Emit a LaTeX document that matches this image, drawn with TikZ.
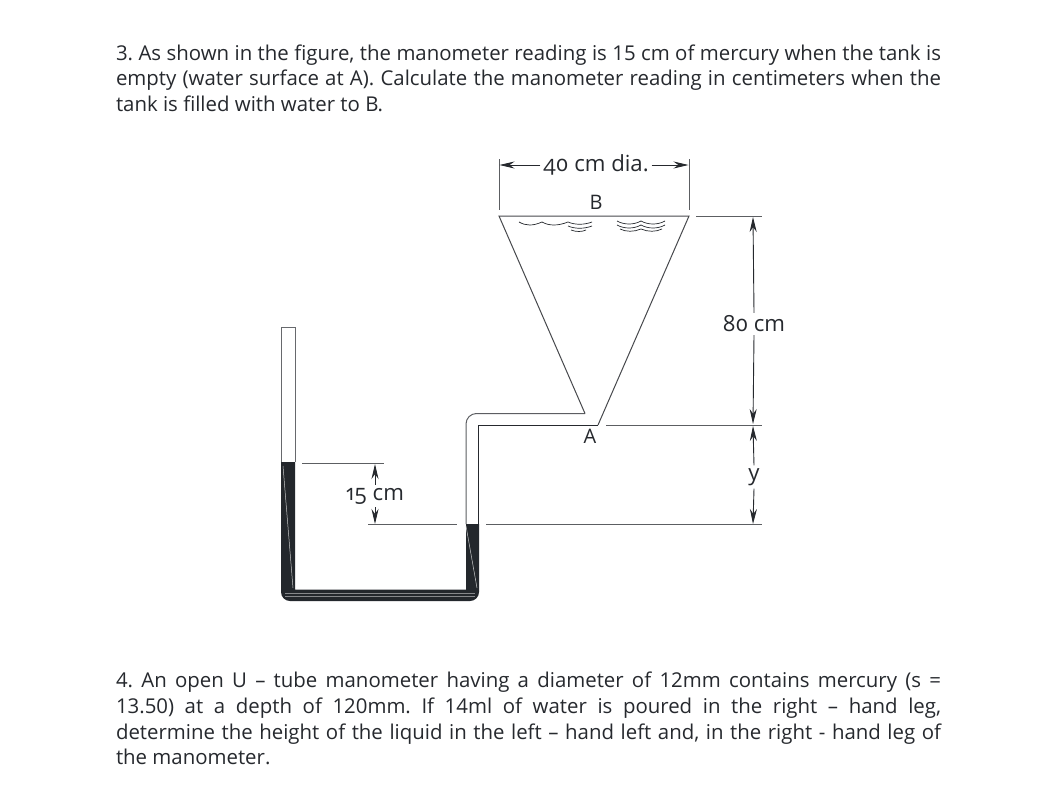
\documentclass[tikz,border=0pt]{standalone}
\usepackage{fontspec}
\setmainfont{Open Sans}
\newfontfamily\figfont[Numbers=OldStyle]{Open Sans}
\usetikzlibrary{arrows.meta}
\definecolor{ink}{HTML}{26292E}
\definecolor{hg}{HTML}{23272C}
\frenchspacing
\tikzset{
 x=1pt,y=-1pt,
 every node/.style={inner sep=0pt,outer sep=0pt,text=ink},
 para/.style={anchor=north west,align=left,font=\fontsize{20.4}{25.7}\selectfont},
 lab/.style={font=\figfont\fontsize{22.2}{24}\selectfont},
 letter/.style={font=\fontsize{20}{22}\selectfont},
 wall/.style={draw=ink,line width=1pt},
 dimline/.style={draw=ink!75,line width=1pt},
 dimarrow/.style={draw=ink,line width=.9pt,-{Stealth[length=15pt,width=7pt]}},
 ripple/.style={draw=ink,line width=.7pt},
 mercury/.style={fill=hg,draw=none},
 streak/.style={draw=white!75!hg,line width=.5pt}
}
\newcommand{\fl}[1]{\makebox[825pt][s]{#1}}
\begin{document}
\begin{tikzpicture}
\useasboundingbox (0,0) rectangle (1055,803);
\fill[white] (0,0) rectangle (1055,803);
% text
\node[para] (q3) at (116,44.5) {\fl{3. As shown in the figure, the manometer reading is 15 cm of mercury when the tank is}\\
\fl{empty (water surface at A). Calculate the manometer reading in centimeters when the}\\
tank is filled with water to B.};
\node[para] (q4) at (116,672) {\fl{4. An open U – tube manometer having a diameter of 12mm contains mercury (s =}\\
\fl{13.50) at a depth of 120mm. If 14ml of water is poured in the right – hand leg,}\\
\fl{determine the height of the liquid in the left – hand left and, in the right - hand leg of}\\
the manometer.};
% mercury
\path[mercury] (281,462) -- (295,462) -- (295,589.5) -- (466,589.5) -- (466,524) -- (479,524)
 -- (479,592) arc[start angle=0,end angle=90,radius=9] -- (290,601) arc[start angle=90,end angle=180,radius=9] -- cycle;
\draw[streak] (283,466) -- (293,588);
\draw[streak] (466,526) -- (477,588);
\draw[streak,draw=white!45!hg] (285,593) -- (475,593);
\draw[streak,draw=white!45!hg] (285,596) -- (475,596);
% tube
\coordinate (tl1) at (281.5,462);
\coordinate (tl2) at (281.5,327);
\coordinate (tl3) at (295,327);
\coordinate (tl4) at (295,462);
\draw[wall,draw=ink!70] (tl1) -- (tl2) -- (tl3) -- (tl4);
\coordinate (pa) at (466,524);
\coordinate (pb) at (585,413.5);
\coordinate (pc) at (478.5,524);
\coordinate (pd) at (598,425);
\coordinate (ct) at (499,216);
\coordinate (cr) at (689,216);
\draw[wall,draw=ink!75] (pa) -- (466,424) arc[start angle=180,end angle=270,radius=10.5] -- (pb);
\draw[wall] (pc) -- (478.5,425) -- (pd);
% tank
\draw[wall,draw=ink!85] (pb) -- (ct) -- (cr) -- (pd);
% ripples
\draw[ripple] (519,222) .. controls (526,226) and (533,226) .. (542,222) .. controls (549,226) and (558,226) .. (568,222) .. controls (575,225) and (584,225) .. (592,222);
\draw[ripple] (568,226) .. controls (575,229) and (584,229) .. (592,226);
\draw[ripple] (571,230) .. controls (576,232) and (582,232) .. (586,230);
\draw[ripple] (617,221) .. controls (624,225) and (634,225) .. (641,221) .. controls (648,225) and (658,225) .. (665,221);
\draw[ripple] (617,225) .. controls (624,229) and (634,229) .. (641,225) .. controls (648,229) and (658,229) .. (665,225);
\draw[ripple] (620,229) .. controls (626,232) and (634,232) .. (641,229) .. controls (648,232) and (656,232) .. (662,229);
% labels
\node[lab] (d40) at (596,165) {40 cm dia.};
\node[letter] (lb) at (596,202) {B};
\node[letter] (la) at (590,436) {A};
\node[lab] (d80) at (754,324) {80 cm};
\node[lab] (dy) at (754,477) {y};
\node[lab] (d15) at (375,496) {15 cm};
% extension lines
\coordinate (e1a) at (499,159); \coordinate (e1b) at (499,210);
\coordinate (e2a) at (689,159); \coordinate (e2b) at (689,210);
\draw[dimline] (e1a) -- (e1b);
\draw[dimline] (e2a) -- (e2b);
\coordinate (h1a) at (696,216); \coordinate (h1b) at (762,216);
\coordinate (h2a) at (606,425); \coordinate (h2b) at (762,425);
\coordinate (h3a) at (486,524.5); \coordinate (h3b) at (762,524.5);
\coordinate (h4a) at (302,463); \coordinate (h4b) at (384,463);
\coordinate (h5a) at (368,524.5); \coordinate (h5b) at (457,524.5);
\foreach \p in {1,2,3,4,5} \draw[dimline] (h\p a) -- (h\p b);
% dimension arrows
\coordinate (a40l) at (499.5,165); \coordinate (a40r) at (688.5,165);
\coordinate (a80t) at (753,217); \coordinate (a80b) at (753,424);
\coordinate (ayt) at (753,426); \coordinate (ayb) at (753,524);
\coordinate (a15t) at (375,464); \coordinate (a15b) at (375,524);
\draw[dimarrow] (d40.west) ++(-3,0) -- (a40l);
\draw[dimarrow] (d40.east) ++(3,0) -- (a40r);
\draw[dimarrow] (d80.north) ++(0,-3) -- (a80t);
\draw[dimarrow] (d80.south) ++(0,3) -- (a80b);
\draw[dimarrow] (dy.north) ++(0,-3) -- (ayt);
\draw[dimarrow] (dy.south) ++(0,3) -- (ayb);
\draw[dimarrow] (d15.north) ++(0,-3) -- (a15t);
\draw[dimarrow] (d15.south) ++(0,3) -- (a15b);
\end{tikzpicture}
\end{document}
